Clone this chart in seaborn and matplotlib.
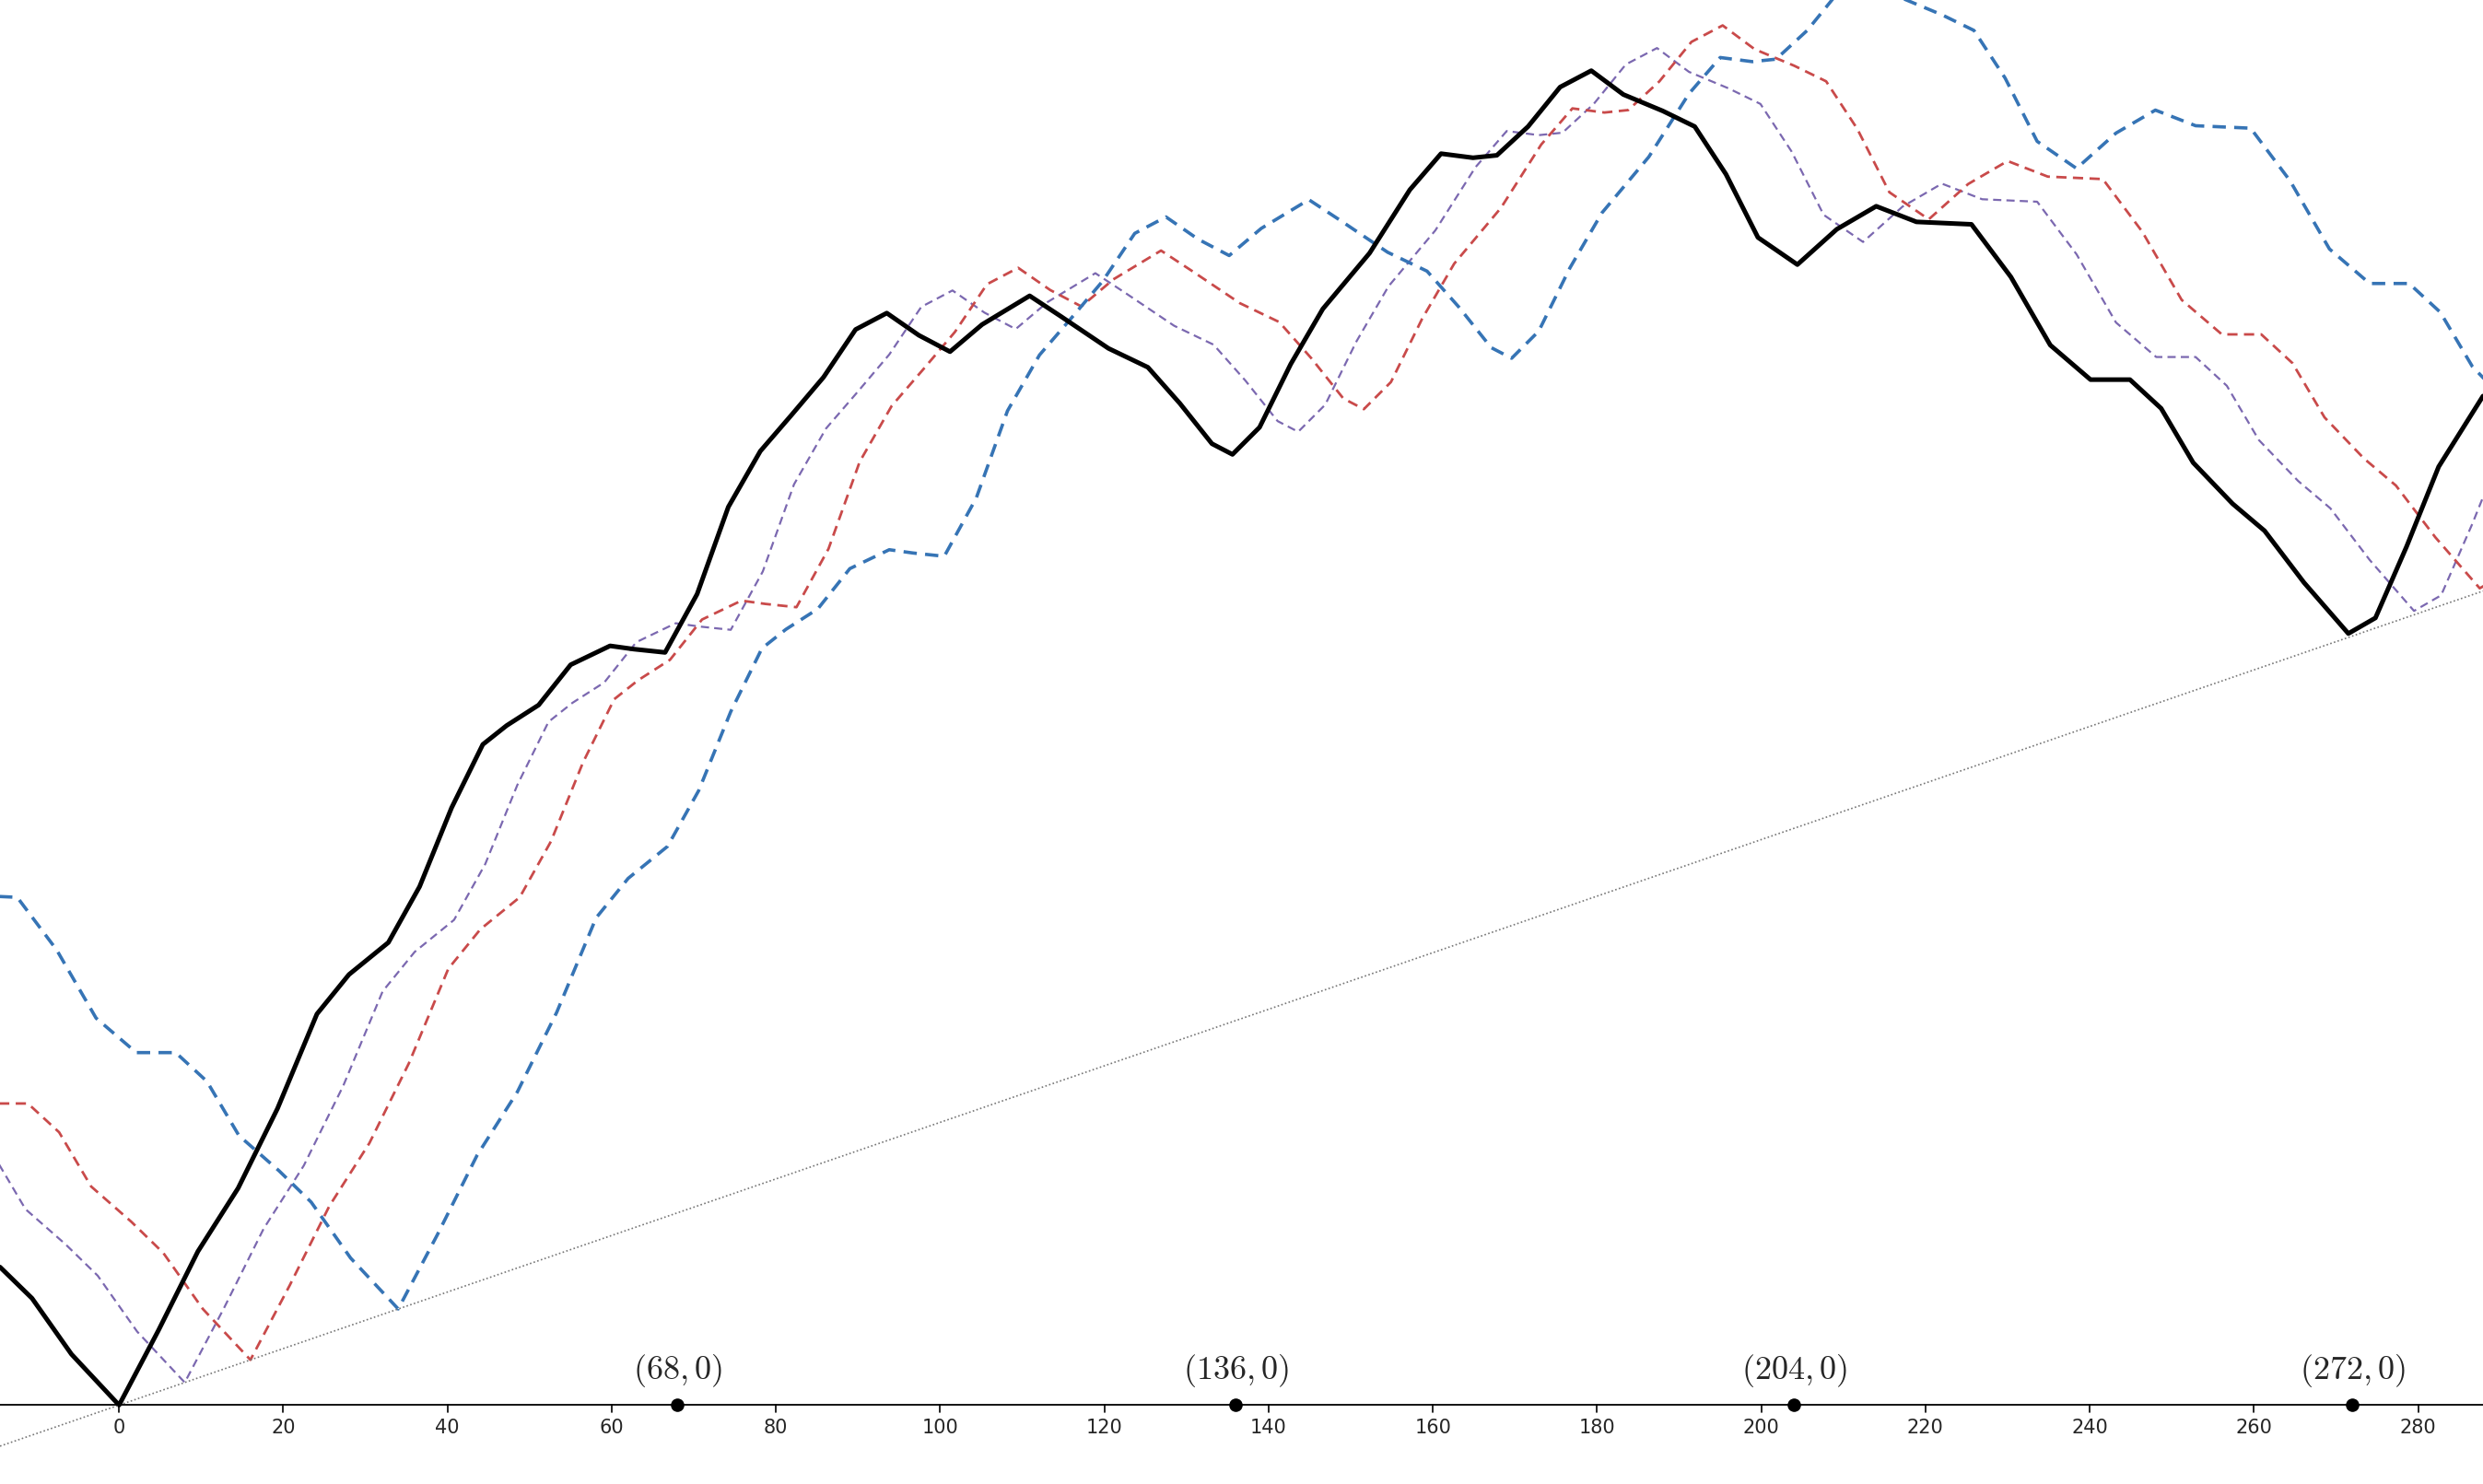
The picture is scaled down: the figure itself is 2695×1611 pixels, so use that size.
import matplotlib
matplotlib.use("Agg")
import matplotlib.pyplot as plt
import seaborn as sns
import numpy as np
import pandas as pd

sns.set_style("white")
plt.rcParams['font.family'] = ['DejaVu Sans']
plt.rcParams['mathtext.fontset'] = 'cm'
plt.rcParams['lines.solid_joinstyle'] = 'round'
plt.rcParams['lines.dash_joinstyle'] = 'round'

# black curve (data units)
bx = [-14.5,-10.6,-5.8,0,4.8,9.6,14.5,19.3,24.1,28.0,32.8,36.6,40.5,44.3,47.2,51.1,55.0,59.8,62.7,66.5,
      70.4,74.2,78.1,81.9,85.8,89.7,93.5,97.4,101.2,105.1,110.9,114.7,120.5,125.3,129.2,133.1,135.6,138.9,
      142.7,146.6,152.3,157.2,161.0,164.9,167.8,171.6,175.5,179.3,183.2,188.0,191.9,195.7,199.6,204.4,
      209.2,214.0,218.9,225.6,230.4,235.2,240.1,244.9,248.7,252.6,257.4,261.3,266.1,271.5,274.8,278.6,282.5,287.9]
by = [16.8,13.0,6.2,0,9.1,18.7,26.4,36.1,47.6,52.4,56.3,63.1,72.7,80.4,82.7,85.2,90.1,92.4,92.0,91.6,
      98.7,109.3,116.1,120.5,125.1,130.9,132.9,130.2,128.2,131.5,135.0,132.5,128.6,126.3,121.9,117.0,115.7,119.0,
      126.7,133.4,140.2,147.9,152.3,151.8,152.1,155.6,160.4,162.4,159.5,157.5,155.6,149.8,142.1,138.8,
      143.1,145.9,144.0,143.7,137.3,129.0,124.8,124.8,121.3,114.7,109.7,106.4,100.1,93.9,95.8,104.5,114.2,122.8]
period = 272.0
rise = 93.6
slope = rise / period

# shifted copies along the dotted line
shifts = [8, 16, 34]
colors = ['#7b68b0', '#c94a4a', '#3674b5']
widths = [1.6, 2.0, 2.6]

points_x = [68, 136, 204, 272]
ticks = list(range(0, 281, 20))

fig = plt.figure(figsize=(26.95, 16.11), dpi=100)
ax = fig.add_axes([0, 0, 1, 1])
xmin, xmax, ymin, ymax = -14.5, 287.9, -9.6, 171.0

# extend black curve to the left by one period (only where not already covered)
bxa = np.array(bx); bya = np.array(by)
m = (bxa - period) < bxa[0] - 0.5
m &= bxa > 180
ex = np.concatenate([bxa[m] - period, bxa])
ey = np.concatenate([bya[m] - rise, bya])

for s, c, w in zip(shifts, colors, widths):
    df = pd.DataFrame({'x': ex + s, 'y': ey + slope * s})
    sns.lineplot(data=df, x='x', y='y', ax=ax, color=c, lw=w, linestyle=(0, (4, 2.5)),
                 estimator=None, sort=False)

sns.lineplot(x=bx, y=by, ax=ax, color='black', lw=3.6, estimator=None, sort=False)

lx = np.array([xmin, xmax])
ax.plot(lx, slope * lx, color='#777777', lw=1.2, linestyle=(0, (1, 1.5)))

ax.axhline(0, color='black', lw=1.3)
for t in ticks:
    ax.plot([t, t], [0, -0.8], color='black', lw=1.2)
    ax.text(t, -1.6, str(t), ha='center', va='top', fontsize=15)

ax.scatter(points_x, [0]*len(points_x), color='black', s=90, zorder=5)
for p in points_x:
    ax.text(p, 1.9, r'$(%d, 0)$' % p, ha='center', va='bottom', fontsize=26)

ax.set_xlim(xmin, xmax)
ax.set_ylim(ymin, ymax)
ax.axis('off')
fig.savefig('out.png', dpi=100)
